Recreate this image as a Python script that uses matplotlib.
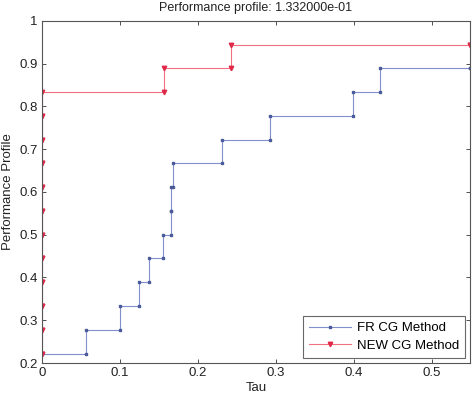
import numpy as np
import matplotlib
matplotlib.use('Agg')
import matplotlib.pyplot as plt

plt.rcParams['font.family'] = ['Liberation Sans', 'DejaVu Sans']

## number of test problems and x range of the profile
n_prob = 18
tau_max = 0.549

## FR CG method: tau where each level starts, and the level reached (count / n_prob)
fr_tau = [0.0, 0.0564, 0.1, 0.1248, 0.1376, 0.1547, 0.165, 0.165, 0.1685,
          0.2303, 0.292, 0.399, 0.4333]
fr_count = [4, 5, 6, 7, 8, 9, 10, 11, 12, 13, 14, 15, 16]

## NEW CG method
new_tau = [0.0, 0.0, 0.0, 0.0, 0.0, 0.0, 0.0, 0.0, 0.0, 0.0, 0.0, 0.0,
           0.1568, 0.2423]
new_count = [4, 5, 6, 7, 8, 9, 10, 11, 12, 13, 14, 15, 16, 17]


def stair_xy(tau, count):
    '''Vertices of a staircase (like MATLAB stairs), extended to tau_max.'''
    t = np.append(np.asarray(tau, float), tau_max)
    p = np.append(np.asarray(count, float), count[-1]) / n_prob
    xs = np.repeat(t, 2)[1:]
    ys = np.repeat(p, 2)[:-1]
    return xs, ys


fig = plt.figure(figsize=(4.74, 3.95), dpi=100)
ax = fig.add_axes([0.0886, 0.081, 0.903, 0.866])

xs, ys = stair_xy(fr_tau, fr_count)
ax.plot(xs, ys, color='#8090cc', lw=0.8, marker='s', ms=1.7,
        mfc='#4a5a9a', mec='#4a5a9a', label='FR CG Method')
xs, ys = stair_xy(new_tau, new_count)
ax.plot(xs, ys, color='#f27080', lw=0.8, marker='v', ms=3.2,
        mfc='#e02848', mec='#e02848', label='NEW CG Method')

ax.set_xlim(0, tau_max)
ax.set_ylim(0.2, 1.0)
ax.set_xticks(np.arange(0, 0.51, 0.1))
ax.set_xticklabels(['0', '0.1', '0.2', '0.3', '0.4', '0.5'])
ax.set_yticks(np.arange(0.2, 1.01, 0.1))
ax.set_yticklabels(['0.2', '0.3', '0.4', '0.5', '0.6', '0.7', '0.8', '0.9', '1'])
ax.tick_params(direction='in', length=3, width=0.6, top=True, right=True,
               labelsize=9.5, colors='#333333', labelcolor='#222222', pad=3)
for s in ax.spines.values():
    s.set_color('#555555')
    s.set_linewidth(0.8)

ax.set_title('Performance profile: 1.332000e-01', fontsize=9, color='#222222', pad=7)
ax.set_xlabel('Tau', fontsize=9.5, color='#222222', labelpad=2)
ax.set_ylabel('Performance Profile', fontsize=9.5, color='#222222', labelpad=4)

leg = ax.legend(loc='lower right', fontsize=9.5, frameon=True, fancybox=False,
                borderaxespad=0.4, handlelength=3.2, labelspacing=0.4,
                borderpad=0.45, handletextpad=0.4)
leg.get_frame().set_edgecolor('#444444')
leg.get_frame().set_linewidth(0.8)

fig.savefig('out.png', dpi=100)
